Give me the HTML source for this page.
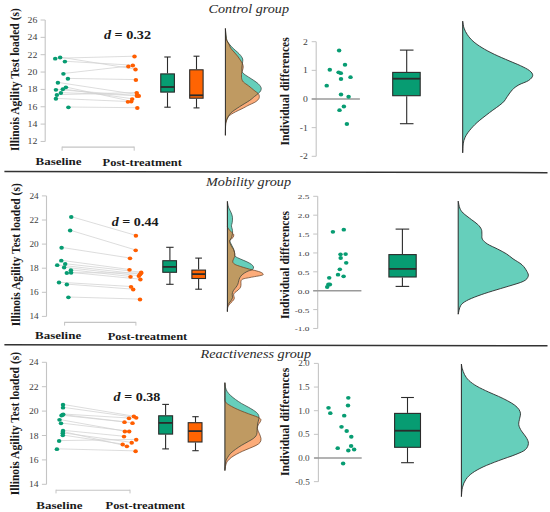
<!DOCTYPE html>
<html><head><meta charset="utf-8"><style>
html,body{margin:0;padding:0;background:#fff;width:550px;height:512px;overflow:hidden;}
svg{display:block;font-family:"Liberation Serif", serif;}
</style></head><body>
<svg width="550" height="512" viewBox="0 0 550 512">
<rect width="550" height="512" fill="#fff"/>
<text x="208.60" y="12.50" font-size="12.60" font-weight="normal" font-style="italic" text-anchor="start" fill="#2a2a2a" textLength="80.40" lengthAdjust="spacingAndGlyphs">Control group</text>
<text transform="translate(19.30,150.90) rotate(-90)" font-size="12.40" font-weight="bold" fill="#1a1a1a" textLength="142.70" lengthAdjust="spacingAndGlyphs">Illinois Agility Test loaded (s)</text>
<line x1="45.20" y1="20.00" x2="45.20" y2="141.45" stroke="#c4c4c4" stroke-width="1.10"/>
<line x1="40.60" y1="141.45" x2="45.20" y2="141.45" stroke="#c4c4c4" stroke-width="1.00"/>
<text x="37.40" y="144.45" font-size="7.90" font-weight="normal" font-style="normal" text-anchor="end" fill="#404040" textLength="9.80" lengthAdjust="spacingAndGlyphs">12</text>
<line x1="40.60" y1="124.10" x2="45.20" y2="124.10" stroke="#c4c4c4" stroke-width="1.00"/>
<text x="37.40" y="127.10" font-size="7.90" font-weight="normal" font-style="normal" text-anchor="end" fill="#404040" textLength="9.80" lengthAdjust="spacingAndGlyphs">14</text>
<line x1="40.60" y1="106.75" x2="45.20" y2="106.75" stroke="#c4c4c4" stroke-width="1.00"/>
<text x="37.40" y="109.75" font-size="7.90" font-weight="normal" font-style="normal" text-anchor="end" fill="#404040" textLength="9.80" lengthAdjust="spacingAndGlyphs">16</text>
<line x1="40.60" y1="89.40" x2="45.20" y2="89.40" stroke="#c4c4c4" stroke-width="1.00"/>
<text x="37.40" y="92.40" font-size="7.90" font-weight="normal" font-style="normal" text-anchor="end" fill="#404040" textLength="9.80" lengthAdjust="spacingAndGlyphs">18</text>
<line x1="40.60" y1="72.05" x2="45.20" y2="72.05" stroke="#c4c4c4" stroke-width="1.00"/>
<text x="37.40" y="75.05" font-size="7.90" font-weight="normal" font-style="normal" text-anchor="end" fill="#404040" textLength="9.80" lengthAdjust="spacingAndGlyphs">20</text>
<line x1="40.60" y1="54.70" x2="45.20" y2="54.70" stroke="#c4c4c4" stroke-width="1.00"/>
<text x="37.40" y="57.70" font-size="7.90" font-weight="normal" font-style="normal" text-anchor="end" fill="#404040" textLength="9.80" lengthAdjust="spacingAndGlyphs">22</text>
<line x1="40.60" y1="37.35" x2="45.20" y2="37.35" stroke="#c4c4c4" stroke-width="1.00"/>
<text x="37.40" y="40.35" font-size="7.90" font-weight="normal" font-style="normal" text-anchor="end" fill="#404040" textLength="9.80" lengthAdjust="spacingAndGlyphs">24</text>
<line x1="40.60" y1="20.00" x2="45.20" y2="20.00" stroke="#c4c4c4" stroke-width="1.00"/>
<text x="37.40" y="23.00" font-size="7.90" font-weight="normal" font-style="normal" text-anchor="end" fill="#404040" textLength="9.80" lengthAdjust="spacingAndGlyphs">26</text>
<line x1="62.10" y1="147.10" x2="134.20" y2="147.10" stroke="#c4c4c4" stroke-width="1.10"/>
<line x1="62.10" y1="146.60" x2="62.10" y2="150.70" stroke="#c4c4c4" stroke-width="1.00"/>
<line x1="134.20" y1="146.60" x2="134.20" y2="150.70" stroke="#c4c4c4" stroke-width="1.00"/>
<text x="35.50" y="165.00" font-size="11.00" font-weight="bold" font-style="normal" text-anchor="start" fill="#1a1a1a" textLength="46.10" lengthAdjust="spacingAndGlyphs">Baseline</text>
<text x="102.60" y="165.50" font-size="11.00" font-weight="bold" font-style="normal" text-anchor="start" fill="#1a1a1a" textLength="79.30" lengthAdjust="spacingAndGlyphs">Post-treatment</text>
<text x="103.90" y="38.90" font-size="12" font-weight="bold" fill="#1a1a1a" textLength="47.20" lengthAdjust="spacingAndGlyphs"><tspan font-style="italic">d</tspan> = 0.32</text>
<line x1="55.20" y1="58.30" x2="134.50" y2="56.20" stroke="#d2d2d2" stroke-width="0.75"/>
<line x1="60.10" y1="57.10" x2="135.50" y2="69.20" stroke="#d2d2d2" stroke-width="0.75"/>
<line x1="64.90" y1="61.25" x2="132.80" y2="65.20" stroke="#d2d2d2" stroke-width="0.75"/>
<line x1="63.40" y1="73.50" x2="128.40" y2="66.10" stroke="#d2d2d2" stroke-width="0.75"/>
<line x1="67.90" y1="78.40" x2="135.90" y2="79.60" stroke="#d2d2d2" stroke-width="0.75"/>
<line x1="57.90" y1="82.40" x2="137.30" y2="94.50" stroke="#d2d2d2" stroke-width="0.75"/>
<line x1="65.90" y1="87.00" x2="131.25" y2="101.25" stroke="#d2d2d2" stroke-width="0.75"/>
<line x1="62.80" y1="88.90" x2="132.20" y2="98.75" stroke="#d2d2d2" stroke-width="0.75"/>
<line x1="55.90" y1="89.50" x2="136.90" y2="95.60" stroke="#d2d2d2" stroke-width="0.75"/>
<line x1="60.90" y1="92.60" x2="138.80" y2="95.60" stroke="#d2d2d2" stroke-width="0.75"/>
<line x1="56.90" y1="94.70" x2="136.70" y2="92.50" stroke="#d2d2d2" stroke-width="0.75"/>
<line x1="55.90" y1="98.40" x2="127.90" y2="101.50" stroke="#d2d2d2" stroke-width="0.75"/>
<line x1="68.40" y1="107.00" x2="137.30" y2="107.70" stroke="#d2d2d2" stroke-width="0.75"/>
<ellipse cx="55.20" cy="58.65" rx="2.25" ry="1.95" fill="#079c72"/>
<ellipse cx="60.10" cy="57.45" rx="2.25" ry="1.95" fill="#079c72"/>
<ellipse cx="64.90" cy="61.60" rx="2.25" ry="1.95" fill="#079c72"/>
<ellipse cx="63.40" cy="73.85" rx="2.25" ry="1.95" fill="#079c72"/>
<ellipse cx="67.90" cy="78.75" rx="2.25" ry="1.95" fill="#079c72"/>
<ellipse cx="57.90" cy="82.75" rx="2.25" ry="1.95" fill="#079c72"/>
<ellipse cx="65.90" cy="87.35" rx="2.25" ry="1.95" fill="#079c72"/>
<ellipse cx="62.80" cy="89.25" rx="2.25" ry="1.95" fill="#079c72"/>
<ellipse cx="55.90" cy="89.85" rx="2.25" ry="1.95" fill="#079c72"/>
<ellipse cx="60.90" cy="92.95" rx="2.25" ry="1.95" fill="#079c72"/>
<ellipse cx="56.90" cy="95.05" rx="2.25" ry="1.95" fill="#079c72"/>
<ellipse cx="55.90" cy="98.75" rx="2.25" ry="1.95" fill="#079c72"/>
<ellipse cx="68.40" cy="107.35" rx="2.25" ry="1.95" fill="#079c72"/>
<ellipse cx="134.50" cy="56.55" rx="2.25" ry="1.95" fill="#ff5e00"/>
<ellipse cx="135.50" cy="69.55" rx="2.25" ry="1.95" fill="#ff5e00"/>
<ellipse cx="132.80" cy="65.55" rx="2.25" ry="1.95" fill="#ff5e00"/>
<ellipse cx="128.40" cy="66.45" rx="2.25" ry="1.95" fill="#ff5e00"/>
<ellipse cx="135.90" cy="79.95" rx="2.25" ry="1.95" fill="#ff5e00"/>
<ellipse cx="137.30" cy="94.85" rx="2.25" ry="1.95" fill="#ff5e00"/>
<ellipse cx="131.25" cy="101.60" rx="2.25" ry="1.95" fill="#ff5e00"/>
<ellipse cx="132.20" cy="99.10" rx="2.25" ry="1.95" fill="#ff5e00"/>
<ellipse cx="136.90" cy="95.95" rx="2.25" ry="1.95" fill="#ff5e00"/>
<ellipse cx="138.80" cy="95.95" rx="2.25" ry="1.95" fill="#ff5e00"/>
<ellipse cx="136.70" cy="92.85" rx="2.25" ry="1.95" fill="#ff5e00"/>
<ellipse cx="127.90" cy="101.85" rx="2.25" ry="1.95" fill="#ff5e00"/>
<ellipse cx="137.30" cy="108.05" rx="2.25" ry="1.95" fill="#ff5e00"/>
<line x1="167.50" y1="57.00" x2="167.50" y2="73.40" stroke="#2b2b2b" stroke-width="1.10"/>
<line x1="167.50" y1="92.60" x2="167.50" y2="107.20" stroke="#2b2b2b" stroke-width="1.10"/>
<line x1="164.30" y1="57.00" x2="170.70" y2="57.00" stroke="#2b2b2b" stroke-width="1.10"/>
<line x1="164.30" y1="107.20" x2="170.70" y2="107.20" stroke="#2b2b2b" stroke-width="1.10"/>
<rect x="160.75" y="73.90" width="13.65" height="18.20" fill="#079c72" stroke="#2b2b2b" stroke-width="1.1"/>
<line x1="160.75" y1="87.00" x2="174.40" y2="87.00" stroke="#2b2b2b" stroke-width="1.80"/>
<line x1="196.50" y1="56.20" x2="196.50" y2="69.30" stroke="#2b2b2b" stroke-width="1.10"/>
<line x1="196.50" y1="98.70" x2="196.50" y2="107.90" stroke="#2b2b2b" stroke-width="1.10"/>
<line x1="193.50" y1="56.20" x2="199.50" y2="56.20" stroke="#2b2b2b" stroke-width="1.10"/>
<line x1="193.50" y1="107.90" x2="199.50" y2="107.90" stroke="#2b2b2b" stroke-width="1.10"/>
<rect x="189.70" y="69.80" width="13.40" height="28.40" fill="#ff6402" stroke="#2b2b2b" stroke-width="1.1"/>
<line x1="189.70" y1="95.30" x2="203.10" y2="95.30" stroke="#2b2b2b" stroke-width="1.80"/>
<defs><clipPath id="clipg1"><path d="M225.40,28.50 L225.40,28.50 C225.47,29.25 225.65,31.58 225.80,33.00 C225.95,34.42 226.12,35.80 226.30,37.00 C226.48,38.20 226.42,39.03 226.90,40.20 C227.38,41.37 228.15,42.63 229.20,44.00 C230.25,45.37 231.85,47.07 233.20,48.40 C234.55,49.73 236.07,50.83 237.30,52.00 C238.53,53.17 239.77,54.40 240.60,55.40 C241.43,56.40 241.93,57.22 242.30,58.00 C242.67,58.78 242.78,59.17 242.80,60.10 C242.82,61.03 242.55,62.28 242.40,63.60 C242.25,64.92 241.93,66.63 241.90,68.00 C241.87,69.37 241.85,70.80 242.20,71.80 C242.55,72.80 242.98,73.15 244.00,74.00 C245.02,74.85 246.75,75.88 248.30,76.90 C249.85,77.92 251.62,78.93 253.30,80.10 C254.98,81.27 257.10,82.63 258.40,83.90 C259.70,85.17 260.73,86.53 261.10,87.70 C261.47,88.87 261.05,89.95 260.60,90.90 C260.15,91.85 259.42,92.47 258.40,93.40 C257.38,94.33 255.95,95.33 254.50,96.50 C253.05,97.67 252.18,98.70 249.70,100.40 C247.22,102.10 242.77,104.58 239.60,106.70 C236.43,108.82 232.82,110.98 230.70,113.10 C228.58,115.22 227.73,117.72 226.90,119.40 C226.07,121.08 225.94,121.43 225.70,123.20 C225.46,124.97 225.50,127.98 225.45,130.00 C225.40,132.02 225.41,134.42 225.40,135.30 L225.40,135.30 Z"/></clipPath></defs>
<path d="M225.40,28.50 L225.40,28.50 C225.47,29.25 225.65,31.58 225.80,33.00 C225.95,34.42 226.12,35.80 226.30,37.00 C226.48,38.20 226.42,39.03 226.90,40.20 C227.38,41.37 228.15,42.63 229.20,44.00 C230.25,45.37 231.85,47.07 233.20,48.40 C234.55,49.73 236.07,50.83 237.30,52.00 C238.53,53.17 239.77,54.40 240.60,55.40 C241.43,56.40 241.93,57.22 242.30,58.00 C242.67,58.78 242.78,59.17 242.80,60.10 C242.82,61.03 242.55,62.28 242.40,63.60 C242.25,64.92 241.93,66.63 241.90,68.00 C241.87,69.37 241.85,70.80 242.20,71.80 C242.55,72.80 242.98,73.15 244.00,74.00 C245.02,74.85 246.75,75.88 248.30,76.90 C249.85,77.92 251.62,78.93 253.30,80.10 C254.98,81.27 257.10,82.63 258.40,83.90 C259.70,85.17 260.73,86.53 261.10,87.70 C261.47,88.87 261.05,89.95 260.60,90.90 C260.15,91.85 259.42,92.47 258.40,93.40 C257.38,94.33 255.95,95.33 254.50,96.50 C253.05,97.67 252.18,98.70 249.70,100.40 C247.22,102.10 242.77,104.58 239.60,106.70 C236.43,108.82 232.82,110.98 230.70,113.10 C228.58,115.22 227.73,117.72 226.90,119.40 C226.07,121.08 225.94,121.43 225.70,123.20 C225.46,124.97 225.50,127.98 225.45,130.00 C225.40,132.02 225.41,134.42 225.40,135.30 L225.40,135.30 Z" fill="#66cfbb"/>
<path d="M225.40,28.50 L225.40,28.50 C225.48,29.75 225.67,34.00 225.90,36.00 C226.13,38.00 226.31,39.17 226.80,40.50 C227.29,41.83 228.22,42.75 228.85,44.00 C229.48,45.25 229.74,46.67 230.60,48.00 C231.46,49.33 232.85,50.67 234.00,52.00 C235.15,53.33 236.45,54.67 237.50,56.00 C238.55,57.33 239.45,58.67 240.30,60.00 C241.15,61.33 242.12,62.83 242.60,64.00 C243.08,65.17 243.20,66.00 243.20,67.00 C243.20,68.00 242.87,69.00 242.60,70.00 C242.33,71.00 241.78,72.00 241.60,73.00 C241.42,74.00 241.48,75.03 241.50,76.00 C241.52,76.97 241.38,77.80 241.70,78.80 C242.02,79.80 242.27,80.83 243.40,82.00 C244.53,83.17 246.60,84.32 248.50,85.80 C250.40,87.28 253.22,89.63 254.80,90.90 C256.38,92.17 257.25,92.57 258.00,93.40 C258.75,94.23 259.20,94.95 259.30,95.90 C259.40,96.85 259.35,98.03 258.60,99.10 C257.85,100.17 256.40,101.32 254.80,102.30 C253.20,103.28 250.90,104.05 249.00,105.00 C247.10,105.95 246.03,106.65 243.40,108.00 C240.77,109.35 235.73,111.62 233.20,113.10 C230.67,114.58 229.37,115.42 228.20,116.90 C227.03,118.38 226.63,120.52 226.20,122.00 C225.77,123.48 225.73,123.58 225.60,125.80 C225.47,128.02 225.43,133.72 225.40,135.30 L225.40,135.30 Z" fill="#fcac7a"/>
<path d="M225.40,28.50 L225.40,28.50 C225.48,29.75 225.67,34.00 225.90,36.00 C226.13,38.00 226.31,39.17 226.80,40.50 C227.29,41.83 228.22,42.75 228.85,44.00 C229.48,45.25 229.74,46.67 230.60,48.00 C231.46,49.33 232.85,50.67 234.00,52.00 C235.15,53.33 236.45,54.67 237.50,56.00 C238.55,57.33 239.45,58.67 240.30,60.00 C241.15,61.33 242.12,62.83 242.60,64.00 C243.08,65.17 243.20,66.00 243.20,67.00 C243.20,68.00 242.87,69.00 242.60,70.00 C242.33,71.00 241.78,72.00 241.60,73.00 C241.42,74.00 241.48,75.03 241.50,76.00 C241.52,76.97 241.38,77.80 241.70,78.80 C242.02,79.80 242.27,80.83 243.40,82.00 C244.53,83.17 246.60,84.32 248.50,85.80 C250.40,87.28 253.22,89.63 254.80,90.90 C256.38,92.17 257.25,92.57 258.00,93.40 C258.75,94.23 259.20,94.95 259.30,95.90 C259.40,96.85 259.35,98.03 258.60,99.10 C257.85,100.17 256.40,101.32 254.80,102.30 C253.20,103.28 250.90,104.05 249.00,105.00 C247.10,105.95 246.03,106.65 243.40,108.00 C240.77,109.35 235.73,111.62 233.20,113.10 C230.67,114.58 229.37,115.42 228.20,116.90 C227.03,118.38 226.63,120.52 226.20,122.00 C225.77,123.48 225.73,123.58 225.60,125.80 C225.47,128.02 225.43,133.72 225.40,135.30 L225.40,135.30 Z" fill="#bf9a62" clip-path="url(#clipg1)"/>
<path d="M225.40,28.50 C225.47,29.25 225.65,31.58 225.80,33.00 C225.95,34.42 226.12,35.80 226.30,37.00 C226.48,38.20 226.42,39.03 226.90,40.20 C227.38,41.37 228.15,42.63 229.20,44.00 C230.25,45.37 231.85,47.07 233.20,48.40 C234.55,49.73 236.07,50.83 237.30,52.00 C238.53,53.17 239.77,54.40 240.60,55.40 C241.43,56.40 241.93,57.22 242.30,58.00 C242.67,58.78 242.78,59.17 242.80,60.10 C242.82,61.03 242.55,62.28 242.40,63.60 C242.25,64.92 241.93,66.63 241.90,68.00 C241.87,69.37 241.85,70.80 242.20,71.80 C242.55,72.80 242.98,73.15 244.00,74.00 C245.02,74.85 246.75,75.88 248.30,76.90 C249.85,77.92 251.62,78.93 253.30,80.10 C254.98,81.27 257.10,82.63 258.40,83.90 C259.70,85.17 260.73,86.53 261.10,87.70 C261.47,88.87 261.05,89.95 260.60,90.90 C260.15,91.85 259.42,92.47 258.40,93.40 C257.38,94.33 255.95,95.33 254.50,96.50 C253.05,97.67 252.18,98.70 249.70,100.40 C247.22,102.10 242.77,104.58 239.60,106.70 C236.43,108.82 232.82,110.98 230.70,113.10 C228.58,115.22 227.73,117.72 226.90,119.40 C226.07,121.08 225.94,121.43 225.70,123.20 C225.46,124.97 225.50,127.98 225.45,130.00 C225.40,132.02 225.41,134.42 225.40,135.30" fill="none" stroke="#2e3a33" stroke-width="0.7"/>
<path d="M225.40,28.50 C225.48,29.75 225.67,34.00 225.90,36.00 C226.13,38.00 226.31,39.17 226.80,40.50 C227.29,41.83 228.22,42.75 228.85,44.00 C229.48,45.25 229.74,46.67 230.60,48.00 C231.46,49.33 232.85,50.67 234.00,52.00 C235.15,53.33 236.45,54.67 237.50,56.00 C238.55,57.33 239.45,58.67 240.30,60.00 C241.15,61.33 242.12,62.83 242.60,64.00 C243.08,65.17 243.20,66.00 243.20,67.00 C243.20,68.00 242.87,69.00 242.60,70.00 C242.33,71.00 241.78,72.00 241.60,73.00 C241.42,74.00 241.48,75.03 241.50,76.00 C241.52,76.97 241.38,77.80 241.70,78.80 C242.02,79.80 242.27,80.83 243.40,82.00 C244.53,83.17 246.60,84.32 248.50,85.80 C250.40,87.28 253.22,89.63 254.80,90.90 C256.38,92.17 257.25,92.57 258.00,93.40 C258.75,94.23 259.20,94.95 259.30,95.90 C259.40,96.85 259.35,98.03 258.60,99.10 C257.85,100.17 256.40,101.32 254.80,102.30 C253.20,103.28 250.90,104.05 249.00,105.00 C247.10,105.95 246.03,106.65 243.40,108.00 C240.77,109.35 235.73,111.62 233.20,113.10 C230.67,114.58 229.37,115.42 228.20,116.90 C227.03,118.38 226.63,120.52 226.20,122.00 C225.77,123.48 225.73,123.58 225.60,125.80 C225.47,128.02 225.43,133.72 225.40,135.30" fill="none" stroke="#5a3a20" stroke-width="0.7"/>
<line x1="225.40" y1="28.50" x2="225.40" y2="135.30" stroke="#2b2b2b" stroke-width="1.00"/>
<line x1="316.20" y1="41.70" x2="316.20" y2="156.30" stroke="#c4c4c4" stroke-width="1.10"/>
<line x1="311.70" y1="41.70" x2="316.20" y2="41.70" stroke="#c4c4c4" stroke-width="1.00"/>
<text x="307.90" y="44.70" font-size="7.90" font-weight="normal" font-style="normal" text-anchor="end" fill="#404040" textLength="4.82" lengthAdjust="spacingAndGlyphs">2</text>
<line x1="311.70" y1="70.35" x2="316.20" y2="70.35" stroke="#c4c4c4" stroke-width="1.00"/>
<text x="307.90" y="73.35" font-size="7.90" font-weight="normal" font-style="normal" text-anchor="end" fill="#404040" textLength="4.82" lengthAdjust="spacingAndGlyphs">1</text>
<line x1="311.70" y1="99.00" x2="316.20" y2="99.00" stroke="#c4c4c4" stroke-width="1.00"/>
<text x="307.90" y="102.00" font-size="7.90" font-weight="normal" font-style="normal" text-anchor="end" fill="#404040" textLength="4.82" lengthAdjust="spacingAndGlyphs">0</text>
<line x1="311.70" y1="127.65" x2="316.20" y2="127.65" stroke="#c4c4c4" stroke-width="1.00"/>
<text x="307.90" y="130.65" font-size="7.90" font-weight="normal" font-style="normal" text-anchor="end" fill="#404040" textLength="8.03" lengthAdjust="spacingAndGlyphs">-1</text>
<line x1="311.70" y1="156.30" x2="316.20" y2="156.30" stroke="#c4c4c4" stroke-width="1.00"/>
<text x="307.90" y="159.30" font-size="7.90" font-weight="normal" font-style="normal" text-anchor="end" fill="#404040" textLength="8.03" lengthAdjust="spacingAndGlyphs">-2</text>
<line x1="311.70" y1="99.00" x2="359.90" y2="99.00" stroke="#9a9a9a" stroke-width="1.50"/>
<text transform="translate(289.00,145.40) rotate(-90)" font-size="12.60" font-weight="bold" fill="#1a1a1a" textLength="108.10" lengthAdjust="spacingAndGlyphs">Individual differences</text>
<ellipse cx="339.10" cy="50.55" rx="2.25" ry="1.95" fill="#079c72"/>
<ellipse cx="345.00" cy="64.75" rx="2.25" ry="1.95" fill="#079c72"/>
<ellipse cx="329.80" cy="69.75" rx="2.25" ry="1.95" fill="#079c72"/>
<ellipse cx="338.60" cy="72.35" rx="2.25" ry="1.95" fill="#079c72"/>
<ellipse cx="340.80" cy="73.15" rx="2.25" ry="1.95" fill="#079c72"/>
<ellipse cx="341.00" cy="78.95" rx="2.25" ry="1.95" fill="#079c72"/>
<ellipse cx="350.50" cy="77.15" rx="2.25" ry="1.95" fill="#079c72"/>
<ellipse cx="326.70" cy="85.65" rx="2.25" ry="1.95" fill="#079c72"/>
<ellipse cx="341.00" cy="94.45" rx="2.25" ry="1.95" fill="#079c72"/>
<ellipse cx="348.60" cy="96.75" rx="2.25" ry="1.95" fill="#079c72"/>
<ellipse cx="343.90" cy="106.45" rx="2.25" ry="1.95" fill="#079c72"/>
<ellipse cx="339.50" cy="110.15" rx="2.25" ry="1.95" fill="#079c72"/>
<ellipse cx="346.90" cy="123.95" rx="2.25" ry="1.95" fill="#079c72"/>
<line x1="406.70" y1="50.10" x2="406.70" y2="71.90" stroke="#2b2b2b" stroke-width="1.10"/>
<line x1="406.70" y1="96.20" x2="406.70" y2="123.70" stroke="#2b2b2b" stroke-width="1.10"/>
<line x1="399.90" y1="50.10" x2="413.50" y2="50.10" stroke="#2b2b2b" stroke-width="1.10"/>
<line x1="399.90" y1="123.70" x2="413.50" y2="123.70" stroke="#2b2b2b" stroke-width="1.10"/>
<rect x="392.70" y="72.40" width="27.50" height="23.30" fill="#079c72" stroke="#2b2b2b" stroke-width="1.1"/>
<line x1="392.70" y1="78.70" x2="420.20" y2="78.70" stroke="#2b2b2b" stroke-width="1.80"/>
<path d="M462.70,21.20 C462.92,22.35 463.23,25.87 464.00,28.10 C464.77,30.33 465.80,32.42 467.30,34.60 C468.80,36.78 470.55,39.02 473.00,41.20 C475.45,43.38 478.45,45.52 482.00,47.70 C485.55,49.88 489.80,52.12 494.30,54.30 C498.80,56.48 504.63,58.90 509.00,60.80 C513.37,62.70 517.08,64.07 520.50,65.70 C523.92,67.33 527.47,68.97 529.50,70.60 C531.53,72.23 532.85,73.85 532.70,75.50 C532.55,77.15 530.92,78.93 528.60,80.50 C526.28,82.07 521.52,83.35 518.80,84.90 C516.08,86.45 514.20,87.88 512.30,89.80 C510.40,91.72 509.03,94.22 507.40,96.40 C505.77,98.58 505.50,100.18 502.50,102.90 C499.50,105.62 493.63,109.43 489.40,112.70 C485.17,115.97 480.43,119.50 477.10,122.50 C473.77,125.50 471.40,128.23 469.40,130.70 C467.40,133.17 466.13,135.12 465.10,137.30 C464.07,139.48 463.60,141.22 463.20,143.80 C462.80,146.38 462.78,151.30 462.70,152.80 Z" fill="#66cfbb" stroke="none"/>
<path d="M462.70,21.20 C462.92,22.35 463.23,25.87 464.00,28.10 C464.77,30.33 465.80,32.42 467.30,34.60 C468.80,36.78 470.55,39.02 473.00,41.20 C475.45,43.38 478.45,45.52 482.00,47.70 C485.55,49.88 489.80,52.12 494.30,54.30 C498.80,56.48 504.63,58.90 509.00,60.80 C513.37,62.70 517.08,64.07 520.50,65.70 C523.92,67.33 527.47,68.97 529.50,70.60 C531.53,72.23 532.85,73.85 532.70,75.50 C532.55,77.15 530.92,78.93 528.60,80.50 C526.28,82.07 521.52,83.35 518.80,84.90 C516.08,86.45 514.20,87.88 512.30,89.80 C510.40,91.72 509.03,94.22 507.40,96.40 C505.77,98.58 505.50,100.18 502.50,102.90 C499.50,105.62 493.63,109.43 489.40,112.70 C485.17,115.97 480.43,119.50 477.10,122.50 C473.77,125.50 471.40,128.23 469.40,130.70 C467.40,133.17 466.13,135.12 465.10,137.30 C464.07,139.48 463.60,141.22 463.20,143.80 C462.80,146.38 462.78,151.30 462.70,152.80" fill="none" stroke="#2b2b2b" stroke-width="0.9"/>
<line x1="462.70" y1="21.20" x2="462.70" y2="152.80" stroke="#2b2b2b" stroke-width="1.00"/>
<text x="206.00" y="185.60" font-size="12.60" font-weight="normal" font-style="italic" text-anchor="start" fill="#2a2a2a" textLength="85.00" lengthAdjust="spacingAndGlyphs">Mobility group</text>
<text transform="translate(19.50,326.20) rotate(-90)" font-size="12.40" font-weight="bold" fill="#1a1a1a" textLength="143.00" lengthAdjust="spacingAndGlyphs">Illinois Agility Test loaded (s)</text>
<line x1="46.50" y1="195.90" x2="46.50" y2="316.40" stroke="#c4c4c4" stroke-width="1.10"/>
<line x1="41.90" y1="316.40" x2="46.50" y2="316.40" stroke="#c4c4c4" stroke-width="1.00"/>
<text x="38.70" y="319.40" font-size="8.40" font-weight="normal" font-style="normal" text-anchor="end" fill="#404040" textLength="9.24" lengthAdjust="spacingAndGlyphs">14</text>
<line x1="41.90" y1="292.30" x2="46.50" y2="292.30" stroke="#c4c4c4" stroke-width="1.00"/>
<text x="38.70" y="295.30" font-size="8.40" font-weight="normal" font-style="normal" text-anchor="end" fill="#404040" textLength="9.24" lengthAdjust="spacingAndGlyphs">16</text>
<line x1="41.90" y1="268.20" x2="46.50" y2="268.20" stroke="#c4c4c4" stroke-width="1.00"/>
<text x="38.70" y="271.20" font-size="8.40" font-weight="normal" font-style="normal" text-anchor="end" fill="#404040" textLength="9.24" lengthAdjust="spacingAndGlyphs">18</text>
<line x1="41.90" y1="244.10" x2="46.50" y2="244.10" stroke="#c4c4c4" stroke-width="1.00"/>
<text x="38.70" y="247.10" font-size="8.40" font-weight="normal" font-style="normal" text-anchor="end" fill="#404040" textLength="9.24" lengthAdjust="spacingAndGlyphs">20</text>
<line x1="41.90" y1="220.00" x2="46.50" y2="220.00" stroke="#c4c4c4" stroke-width="1.00"/>
<text x="38.70" y="223.00" font-size="8.40" font-weight="normal" font-style="normal" text-anchor="end" fill="#404040" textLength="9.24" lengthAdjust="spacingAndGlyphs">22</text>
<line x1="41.90" y1="195.90" x2="46.50" y2="195.90" stroke="#c4c4c4" stroke-width="1.00"/>
<text x="38.70" y="198.90" font-size="8.40" font-weight="normal" font-style="normal" text-anchor="end" fill="#404040" textLength="9.24" lengthAdjust="spacingAndGlyphs">24</text>
<line x1="64.60" y1="322.40" x2="135.90" y2="322.40" stroke="#c4c4c4" stroke-width="1.10"/>
<line x1="64.60" y1="321.90" x2="64.60" y2="325.60" stroke="#c4c4c4" stroke-width="1.00"/>
<line x1="135.90" y1="321.90" x2="135.90" y2="325.60" stroke="#c4c4c4" stroke-width="1.00"/>
<text x="35.10" y="339.30" font-size="11.00" font-weight="bold" font-style="normal" text-anchor="start" fill="#1a1a1a" textLength="46.10" lengthAdjust="spacingAndGlyphs">Baseline</text>
<text x="107.70" y="340.00" font-size="11.00" font-weight="bold" font-style="normal" text-anchor="start" fill="#1a1a1a" textLength="79.60" lengthAdjust="spacingAndGlyphs">Post-treatment</text>
<text x="111.80" y="225.70" font-size="12" font-weight="bold" fill="#1a1a1a" textLength="46.70" lengthAdjust="spacingAndGlyphs"><tspan font-style="italic">d</tspan> = 0.44</text>
<line x1="71.25" y1="216.60" x2="135.90" y2="235.40" stroke="#d2d2d2" stroke-width="0.75"/>
<line x1="70.10" y1="230.20" x2="135.70" y2="250.00" stroke="#d2d2d2" stroke-width="0.75"/>
<line x1="61.60" y1="247.40" x2="130.00" y2="258.00" stroke="#d2d2d2" stroke-width="0.75"/>
<line x1="61.30" y1="260.30" x2="129.50" y2="269.50" stroke="#d2d2d2" stroke-width="0.75"/>
<line x1="65.20" y1="263.70" x2="141.20" y2="272.20" stroke="#d2d2d2" stroke-width="0.75"/>
<line x1="57.20" y1="264.80" x2="140.00" y2="274.10" stroke="#d2d2d2" stroke-width="0.75"/>
<line x1="64.10" y1="267.20" x2="138.80" y2="275.70" stroke="#d2d2d2" stroke-width="0.75"/>
<line x1="70.90" y1="269.80" x2="130.50" y2="276.50" stroke="#d2d2d2" stroke-width="0.75"/>
<line x1="71.10" y1="272.40" x2="140.40" y2="279.20" stroke="#d2d2d2" stroke-width="0.75"/>
<line x1="66.80" y1="272.70" x2="141.00" y2="273.00" stroke="#d2d2d2" stroke-width="0.75"/>
<line x1="59.00" y1="282.20" x2="131.00" y2="286.50" stroke="#d2d2d2" stroke-width="0.75"/>
<line x1="66.80" y1="284.10" x2="133.20" y2="289.20" stroke="#d2d2d2" stroke-width="0.75"/>
<line x1="68.40" y1="297.00" x2="140.00" y2="299.10" stroke="#d2d2d2" stroke-width="0.75"/>
<ellipse cx="71.25" cy="216.95" rx="2.25" ry="1.95" fill="#079c72"/>
<ellipse cx="70.10" cy="230.55" rx="2.25" ry="1.95" fill="#079c72"/>
<ellipse cx="61.60" cy="247.75" rx="2.25" ry="1.95" fill="#079c72"/>
<ellipse cx="61.30" cy="260.65" rx="2.25" ry="1.95" fill="#079c72"/>
<ellipse cx="65.20" cy="264.05" rx="2.25" ry="1.95" fill="#079c72"/>
<ellipse cx="57.20" cy="265.15" rx="2.25" ry="1.95" fill="#079c72"/>
<ellipse cx="64.10" cy="267.55" rx="2.25" ry="1.95" fill="#079c72"/>
<ellipse cx="70.90" cy="270.15" rx="2.25" ry="1.95" fill="#079c72"/>
<ellipse cx="71.10" cy="272.75" rx="2.25" ry="1.95" fill="#079c72"/>
<ellipse cx="66.80" cy="273.05" rx="2.25" ry="1.95" fill="#079c72"/>
<ellipse cx="59.00" cy="282.55" rx="2.25" ry="1.95" fill="#079c72"/>
<ellipse cx="66.80" cy="284.45" rx="2.25" ry="1.95" fill="#079c72"/>
<ellipse cx="68.40" cy="297.35" rx="2.25" ry="1.95" fill="#079c72"/>
<ellipse cx="135.90" cy="235.75" rx="2.25" ry="1.95" fill="#ff5e00"/>
<ellipse cx="135.70" cy="250.35" rx="2.25" ry="1.95" fill="#ff5e00"/>
<ellipse cx="130.00" cy="258.35" rx="2.25" ry="1.95" fill="#ff5e00"/>
<ellipse cx="129.50" cy="269.85" rx="2.25" ry="1.95" fill="#ff5e00"/>
<ellipse cx="141.20" cy="272.55" rx="2.25" ry="1.95" fill="#ff5e00"/>
<ellipse cx="140.00" cy="274.45" rx="2.25" ry="1.95" fill="#ff5e00"/>
<ellipse cx="138.80" cy="276.05" rx="2.25" ry="1.95" fill="#ff5e00"/>
<ellipse cx="130.50" cy="276.85" rx="2.25" ry="1.95" fill="#ff5e00"/>
<ellipse cx="140.40" cy="279.55" rx="2.25" ry="1.95" fill="#ff5e00"/>
<ellipse cx="141.00" cy="273.35" rx="2.25" ry="1.95" fill="#ff5e00"/>
<ellipse cx="131.00" cy="286.85" rx="2.25" ry="1.95" fill="#ff5e00"/>
<ellipse cx="133.20" cy="289.55" rx="2.25" ry="1.95" fill="#ff5e00"/>
<ellipse cx="140.00" cy="299.45" rx="2.25" ry="1.95" fill="#ff5e00"/>
<line x1="169.90" y1="247.30" x2="169.90" y2="260.20" stroke="#2b2b2b" stroke-width="1.10"/>
<line x1="169.90" y1="272.80" x2="169.90" y2="284.30" stroke="#2b2b2b" stroke-width="1.10"/>
<line x1="166.20" y1="247.30" x2="173.60" y2="247.30" stroke="#2b2b2b" stroke-width="1.10"/>
<line x1="166.20" y1="284.30" x2="173.60" y2="284.30" stroke="#2b2b2b" stroke-width="1.10"/>
<rect x="162.80" y="260.70" width="13.70" height="11.60" fill="#079c72" stroke="#2b2b2b" stroke-width="1.1"/>
<line x1="162.80" y1="266.90" x2="176.50" y2="266.90" stroke="#2b2b2b" stroke-width="1.80"/>
<line x1="198.60" y1="258.10" x2="198.60" y2="269.60" stroke="#2b2b2b" stroke-width="1.10"/>
<line x1="198.60" y1="279.00" x2="198.60" y2="289.20" stroke="#2b2b2b" stroke-width="1.10"/>
<line x1="195.25" y1="258.10" x2="201.95" y2="258.10" stroke="#2b2b2b" stroke-width="1.10"/>
<line x1="195.25" y1="289.20" x2="201.95" y2="289.20" stroke="#2b2b2b" stroke-width="1.10"/>
<rect x="191.90" y="270.10" width="13.60" height="8.40" fill="#ff6402" stroke="#2b2b2b" stroke-width="1.1"/>
<line x1="191.90" y1="274.10" x2="205.50" y2="274.10" stroke="#2b2b2b" stroke-width="1.80"/>
<defs><clipPath id="clipg2"><path d="M227.40,201.40 L227.40,201.40 C227.47,201.83 227.57,202.92 227.80,204.00 C228.03,205.08 228.25,206.47 228.80,207.90 C229.35,209.33 230.48,211.03 231.10,212.60 C231.72,214.17 232.32,215.62 232.50,217.30 C232.68,218.98 232.38,221.28 232.20,222.70 C232.02,224.12 231.40,224.77 231.40,225.80 C231.40,226.83 232.00,227.85 232.20,228.90 C232.40,229.95 232.60,231.08 232.60,232.10 C232.60,233.12 232.38,234.10 232.20,235.00 C232.02,235.90 231.88,236.55 231.50,237.50 C231.12,238.45 229.98,239.65 229.90,240.70 C229.82,241.75 230.48,242.63 231.00,243.80 C231.52,244.97 232.47,246.53 233.00,247.70 C233.53,248.87 233.93,249.83 234.20,250.80 C234.47,251.77 234.43,252.58 234.60,253.50 C234.77,254.42 234.20,255.37 235.20,256.30 C236.20,257.23 238.65,258.18 240.60,259.10 C242.55,260.02 245.07,260.90 246.90,261.80 C248.73,262.70 250.50,263.65 251.60,264.50 C252.70,265.35 253.25,266.18 253.50,266.90 C253.75,267.62 253.35,268.32 253.10,268.80 C252.85,269.28 253.03,269.33 252.00,269.80 C250.97,270.27 248.53,270.78 246.90,271.60 C245.27,272.42 243.38,273.67 242.20,274.70 C241.02,275.73 240.38,276.77 239.80,277.80 C239.22,278.83 239.02,279.85 238.70,280.90 C238.38,281.95 238.33,283.07 237.90,284.10 C237.47,285.13 236.87,286.00 236.10,287.10 C235.33,288.20 233.95,289.52 233.30,290.70 C232.65,291.88 232.33,293.03 232.20,294.20 C232.07,295.37 232.68,296.65 232.50,297.70 C232.32,298.75 231.68,299.57 231.10,300.50 C230.52,301.43 229.58,302.37 229.00,303.30 C228.42,304.23 227.87,304.72 227.60,306.10 C227.33,307.48 227.43,310.68 227.40,311.60 L227.40,311.60 Z"/></clipPath></defs>
<path d="M227.40,201.40 L227.40,201.40 C227.47,201.83 227.57,202.92 227.80,204.00 C228.03,205.08 228.25,206.47 228.80,207.90 C229.35,209.33 230.48,211.03 231.10,212.60 C231.72,214.17 232.32,215.62 232.50,217.30 C232.68,218.98 232.38,221.28 232.20,222.70 C232.02,224.12 231.40,224.77 231.40,225.80 C231.40,226.83 232.00,227.85 232.20,228.90 C232.40,229.95 232.60,231.08 232.60,232.10 C232.60,233.12 232.38,234.10 232.20,235.00 C232.02,235.90 231.88,236.55 231.50,237.50 C231.12,238.45 229.98,239.65 229.90,240.70 C229.82,241.75 230.48,242.63 231.00,243.80 C231.52,244.97 232.47,246.53 233.00,247.70 C233.53,248.87 233.93,249.83 234.20,250.80 C234.47,251.77 234.43,252.58 234.60,253.50 C234.77,254.42 234.20,255.37 235.20,256.30 C236.20,257.23 238.65,258.18 240.60,259.10 C242.55,260.02 245.07,260.90 246.90,261.80 C248.73,262.70 250.50,263.65 251.60,264.50 C252.70,265.35 253.25,266.18 253.50,266.90 C253.75,267.62 253.35,268.32 253.10,268.80 C252.85,269.28 253.03,269.33 252.00,269.80 C250.97,270.27 248.53,270.78 246.90,271.60 C245.27,272.42 243.38,273.67 242.20,274.70 C241.02,275.73 240.38,276.77 239.80,277.80 C239.22,278.83 239.02,279.85 238.70,280.90 C238.38,281.95 238.33,283.07 237.90,284.10 C237.47,285.13 236.87,286.00 236.10,287.10 C235.33,288.20 233.95,289.52 233.30,290.70 C232.65,291.88 232.33,293.03 232.20,294.20 C232.07,295.37 232.68,296.65 232.50,297.70 C232.32,298.75 231.68,299.57 231.10,300.50 C230.52,301.43 229.58,302.37 229.00,303.30 C228.42,304.23 227.87,304.72 227.60,306.10 C227.33,307.48 227.43,310.68 227.40,311.60 L227.40,311.60 Z" fill="#66cfbb"/>
<path d="M227.40,201.40 L227.40,201.40 C227.41,205.17 227.42,219.67 227.45,224.00 C227.48,228.33 227.19,226.32 227.60,227.40 C228.01,228.48 229.13,229.60 229.90,230.50 C230.67,231.40 231.55,232.08 232.20,232.80 C232.85,233.52 233.67,234.02 233.80,234.80 C233.93,235.58 233.59,236.65 233.00,237.50 C232.41,238.35 230.83,239.25 230.25,239.90 C229.67,240.55 229.50,240.75 229.50,241.40 C229.50,242.05 229.87,242.88 230.25,243.80 C230.63,244.72 231.28,245.99 231.80,246.90 C232.33,247.81 232.95,248.33 233.40,249.25 C233.85,250.17 234.25,251.49 234.50,252.40 C234.75,253.31 234.88,254.00 234.90,254.70 C234.92,255.40 234.88,255.75 234.60,256.60 C234.32,257.45 233.50,258.87 233.20,259.80 C232.90,260.73 232.47,261.42 232.80,262.20 C233.13,262.98 233.90,263.78 235.20,264.50 C236.50,265.22 238.65,265.85 240.60,266.50 C242.55,267.15 245.00,267.85 246.90,268.40 C248.80,268.95 250.44,269.40 252.00,269.80 C253.56,270.20 254.77,270.38 256.25,270.80 C257.73,271.22 259.72,271.72 260.90,272.30 C262.07,272.88 263.30,273.77 263.30,274.30 C263.30,274.83 262.33,275.12 260.90,275.50 C259.47,275.88 256.78,276.22 254.70,276.60 C252.62,276.98 250.35,277.40 248.40,277.80 C246.45,278.20 244.23,278.48 243.00,279.00 C241.77,279.52 241.33,280.13 241.00,280.90 C240.67,281.67 241.07,282.57 241.00,283.60 C240.93,284.63 241.07,286.03 240.60,287.10 C240.13,288.17 239.18,289.05 238.20,290.00 C237.22,290.95 235.47,291.98 234.70,292.80 C233.93,293.62 233.67,293.97 233.60,294.90 C233.53,295.83 234.48,297.35 234.30,298.40 C234.12,299.45 233.27,300.27 232.50,301.20 C231.73,302.13 230.45,303.07 229.70,304.00 C228.95,304.93 228.37,305.97 228.00,306.80 C227.63,307.63 227.60,308.20 227.50,309.00 C227.40,309.80 227.42,311.17 227.40,311.60 L227.40,311.60 Z" fill="#fcac7a"/>
<path d="M227.40,201.40 L227.40,201.40 C227.41,205.17 227.42,219.67 227.45,224.00 C227.48,228.33 227.19,226.32 227.60,227.40 C228.01,228.48 229.13,229.60 229.90,230.50 C230.67,231.40 231.55,232.08 232.20,232.80 C232.85,233.52 233.67,234.02 233.80,234.80 C233.93,235.58 233.59,236.65 233.00,237.50 C232.41,238.35 230.83,239.25 230.25,239.90 C229.67,240.55 229.50,240.75 229.50,241.40 C229.50,242.05 229.87,242.88 230.25,243.80 C230.63,244.72 231.28,245.99 231.80,246.90 C232.33,247.81 232.95,248.33 233.40,249.25 C233.85,250.17 234.25,251.49 234.50,252.40 C234.75,253.31 234.88,254.00 234.90,254.70 C234.92,255.40 234.88,255.75 234.60,256.60 C234.32,257.45 233.50,258.87 233.20,259.80 C232.90,260.73 232.47,261.42 232.80,262.20 C233.13,262.98 233.90,263.78 235.20,264.50 C236.50,265.22 238.65,265.85 240.60,266.50 C242.55,267.15 245.00,267.85 246.90,268.40 C248.80,268.95 250.44,269.40 252.00,269.80 C253.56,270.20 254.77,270.38 256.25,270.80 C257.73,271.22 259.72,271.72 260.90,272.30 C262.07,272.88 263.30,273.77 263.30,274.30 C263.30,274.83 262.33,275.12 260.90,275.50 C259.47,275.88 256.78,276.22 254.70,276.60 C252.62,276.98 250.35,277.40 248.40,277.80 C246.45,278.20 244.23,278.48 243.00,279.00 C241.77,279.52 241.33,280.13 241.00,280.90 C240.67,281.67 241.07,282.57 241.00,283.60 C240.93,284.63 241.07,286.03 240.60,287.10 C240.13,288.17 239.18,289.05 238.20,290.00 C237.22,290.95 235.47,291.98 234.70,292.80 C233.93,293.62 233.67,293.97 233.60,294.90 C233.53,295.83 234.48,297.35 234.30,298.40 C234.12,299.45 233.27,300.27 232.50,301.20 C231.73,302.13 230.45,303.07 229.70,304.00 C228.95,304.93 228.37,305.97 228.00,306.80 C227.63,307.63 227.60,308.20 227.50,309.00 C227.40,309.80 227.42,311.17 227.40,311.60 L227.40,311.60 Z" fill="#bf9a62" clip-path="url(#clipg2)"/>
<path d="M227.40,201.40 C227.47,201.83 227.57,202.92 227.80,204.00 C228.03,205.08 228.25,206.47 228.80,207.90 C229.35,209.33 230.48,211.03 231.10,212.60 C231.72,214.17 232.32,215.62 232.50,217.30 C232.68,218.98 232.38,221.28 232.20,222.70 C232.02,224.12 231.40,224.77 231.40,225.80 C231.40,226.83 232.00,227.85 232.20,228.90 C232.40,229.95 232.60,231.08 232.60,232.10 C232.60,233.12 232.38,234.10 232.20,235.00 C232.02,235.90 231.88,236.55 231.50,237.50 C231.12,238.45 229.98,239.65 229.90,240.70 C229.82,241.75 230.48,242.63 231.00,243.80 C231.52,244.97 232.47,246.53 233.00,247.70 C233.53,248.87 233.93,249.83 234.20,250.80 C234.47,251.77 234.43,252.58 234.60,253.50 C234.77,254.42 234.20,255.37 235.20,256.30 C236.20,257.23 238.65,258.18 240.60,259.10 C242.55,260.02 245.07,260.90 246.90,261.80 C248.73,262.70 250.50,263.65 251.60,264.50 C252.70,265.35 253.25,266.18 253.50,266.90 C253.75,267.62 253.35,268.32 253.10,268.80 C252.85,269.28 253.03,269.33 252.00,269.80 C250.97,270.27 248.53,270.78 246.90,271.60 C245.27,272.42 243.38,273.67 242.20,274.70 C241.02,275.73 240.38,276.77 239.80,277.80 C239.22,278.83 239.02,279.85 238.70,280.90 C238.38,281.95 238.33,283.07 237.90,284.10 C237.47,285.13 236.87,286.00 236.10,287.10 C235.33,288.20 233.95,289.52 233.30,290.70 C232.65,291.88 232.33,293.03 232.20,294.20 C232.07,295.37 232.68,296.65 232.50,297.70 C232.32,298.75 231.68,299.57 231.10,300.50 C230.52,301.43 229.58,302.37 229.00,303.30 C228.42,304.23 227.87,304.72 227.60,306.10 C227.33,307.48 227.43,310.68 227.40,311.60" fill="none" stroke="#2e3a33" stroke-width="0.7"/>
<path d="M227.40,201.40 C227.41,205.17 227.42,219.67 227.45,224.00 C227.48,228.33 227.19,226.32 227.60,227.40 C228.01,228.48 229.13,229.60 229.90,230.50 C230.67,231.40 231.55,232.08 232.20,232.80 C232.85,233.52 233.67,234.02 233.80,234.80 C233.93,235.58 233.59,236.65 233.00,237.50 C232.41,238.35 230.83,239.25 230.25,239.90 C229.67,240.55 229.50,240.75 229.50,241.40 C229.50,242.05 229.87,242.88 230.25,243.80 C230.63,244.72 231.28,245.99 231.80,246.90 C232.33,247.81 232.95,248.33 233.40,249.25 C233.85,250.17 234.25,251.49 234.50,252.40 C234.75,253.31 234.88,254.00 234.90,254.70 C234.92,255.40 234.88,255.75 234.60,256.60 C234.32,257.45 233.50,258.87 233.20,259.80 C232.90,260.73 232.47,261.42 232.80,262.20 C233.13,262.98 233.90,263.78 235.20,264.50 C236.50,265.22 238.65,265.85 240.60,266.50 C242.55,267.15 245.00,267.85 246.90,268.40 C248.80,268.95 250.44,269.40 252.00,269.80 C253.56,270.20 254.77,270.38 256.25,270.80 C257.73,271.22 259.72,271.72 260.90,272.30 C262.07,272.88 263.30,273.77 263.30,274.30 C263.30,274.83 262.33,275.12 260.90,275.50 C259.47,275.88 256.78,276.22 254.70,276.60 C252.62,276.98 250.35,277.40 248.40,277.80 C246.45,278.20 244.23,278.48 243.00,279.00 C241.77,279.52 241.33,280.13 241.00,280.90 C240.67,281.67 241.07,282.57 241.00,283.60 C240.93,284.63 241.07,286.03 240.60,287.10 C240.13,288.17 239.18,289.05 238.20,290.00 C237.22,290.95 235.47,291.98 234.70,292.80 C233.93,293.62 233.67,293.97 233.60,294.90 C233.53,295.83 234.48,297.35 234.30,298.40 C234.12,299.45 233.27,300.27 232.50,301.20 C231.73,302.13 230.45,303.07 229.70,304.00 C228.95,304.93 228.37,305.97 228.00,306.80 C227.63,307.63 227.60,308.20 227.50,309.00 C227.40,309.80 227.42,311.17 227.40,311.60" fill="none" stroke="#5a3a20" stroke-width="0.7"/>
<line x1="227.40" y1="201.40" x2="227.40" y2="311.60" stroke="#2b2b2b" stroke-width="1.00"/>
<line x1="317.70" y1="196.30" x2="317.70" y2="328.46" stroke="#c4c4c4" stroke-width="1.10"/>
<line x1="313.20" y1="196.30" x2="317.70" y2="196.30" stroke="#c4c4c4" stroke-width="1.00"/>
<text x="309.50" y="199.30" font-size="7.00" font-weight="normal" font-style="normal" text-anchor="end" fill="#404040" textLength="11.64" lengthAdjust="spacingAndGlyphs">2.5</text>
<line x1="313.20" y1="215.18" x2="317.70" y2="215.18" stroke="#c4c4c4" stroke-width="1.00"/>
<text x="309.50" y="218.18" font-size="7.00" font-weight="normal" font-style="normal" text-anchor="end" fill="#404040" textLength="11.64" lengthAdjust="spacingAndGlyphs">2.0</text>
<line x1="313.20" y1="234.06" x2="317.70" y2="234.06" stroke="#c4c4c4" stroke-width="1.00"/>
<text x="309.50" y="237.06" font-size="7.00" font-weight="normal" font-style="normal" text-anchor="end" fill="#404040" textLength="11.64" lengthAdjust="spacingAndGlyphs">1.5</text>
<line x1="313.20" y1="252.94" x2="317.70" y2="252.94" stroke="#c4c4c4" stroke-width="1.00"/>
<text x="309.50" y="255.94" font-size="7.00" font-weight="normal" font-style="normal" text-anchor="end" fill="#404040" textLength="11.64" lengthAdjust="spacingAndGlyphs">1.0</text>
<line x1="313.20" y1="271.82" x2="317.70" y2="271.82" stroke="#c4c4c4" stroke-width="1.00"/>
<text x="309.50" y="274.82" font-size="7.00" font-weight="normal" font-style="normal" text-anchor="end" fill="#404040" textLength="11.64" lengthAdjust="spacingAndGlyphs">0.5</text>
<line x1="313.20" y1="290.70" x2="317.70" y2="290.70" stroke="#c4c4c4" stroke-width="1.00"/>
<text x="309.50" y="293.70" font-size="7.00" font-weight="normal" font-style="normal" text-anchor="end" fill="#404040" textLength="11.64" lengthAdjust="spacingAndGlyphs">0.0</text>
<line x1="313.20" y1="309.58" x2="317.70" y2="309.58" stroke="#c4c4c4" stroke-width="1.00"/>
<text x="309.50" y="312.58" font-size="7.00" font-weight="normal" font-style="normal" text-anchor="end" fill="#404040" textLength="14.74" lengthAdjust="spacingAndGlyphs">-0.5</text>
<line x1="313.20" y1="328.46" x2="317.70" y2="328.46" stroke="#c4c4c4" stroke-width="1.00"/>
<text x="309.50" y="331.46" font-size="7.00" font-weight="normal" font-style="normal" text-anchor="end" fill="#404040" textLength="14.74" lengthAdjust="spacingAndGlyphs">-1.0</text>
<line x1="313.20" y1="290.70" x2="361.40" y2="290.70" stroke="#9a9a9a" stroke-width="1.50"/>
<text transform="translate(288.80,318.90) rotate(-90)" font-size="12.60" font-weight="bold" fill="#1a1a1a" textLength="108.00" lengthAdjust="spacingAndGlyphs">Individual differences</text>
<ellipse cx="332.90" cy="231.85" rx="2.25" ry="1.95" fill="#079c72"/>
<ellipse cx="343.80" cy="229.65" rx="2.25" ry="1.95" fill="#079c72"/>
<ellipse cx="340.50" cy="254.35" rx="2.25" ry="1.95" fill="#079c72"/>
<ellipse cx="345.60" cy="254.10" rx="2.25" ry="1.95" fill="#079c72"/>
<ellipse cx="340.70" cy="257.95" rx="2.25" ry="1.95" fill="#079c72"/>
<ellipse cx="346.20" cy="262.85" rx="2.25" ry="1.95" fill="#079c72"/>
<ellipse cx="339.80" cy="269.35" rx="2.25" ry="1.95" fill="#079c72"/>
<ellipse cx="338.00" cy="274.65" rx="2.25" ry="1.95" fill="#079c72"/>
<ellipse cx="343.60" cy="276.35" rx="2.25" ry="1.95" fill="#079c72"/>
<ellipse cx="329.20" cy="277.85" rx="2.25" ry="1.95" fill="#079c72"/>
<ellipse cx="329.90" cy="284.55" rx="2.25" ry="1.95" fill="#079c72"/>
<ellipse cx="328.40" cy="284.55" rx="2.25" ry="1.95" fill="#079c72"/>
<ellipse cx="327.20" cy="286.95" rx="2.25" ry="1.95" fill="#079c72"/>
<line x1="402.40" y1="229.10" x2="402.40" y2="254.10" stroke="#2b2b2b" stroke-width="1.10"/>
<line x1="402.40" y1="277.50" x2="402.40" y2="286.40" stroke="#2b2b2b" stroke-width="1.10"/>
<line x1="395.60" y1="229.10" x2="409.20" y2="229.10" stroke="#2b2b2b" stroke-width="1.10"/>
<line x1="395.60" y1="286.40" x2="409.20" y2="286.40" stroke="#2b2b2b" stroke-width="1.10"/>
<rect x="388.90" y="254.60" width="27.30" height="22.40" fill="#079c72" stroke="#2b2b2b" stroke-width="1.1"/>
<line x1="388.90" y1="268.90" x2="416.20" y2="268.90" stroke="#2b2b2b" stroke-width="1.80"/>
<path d="M458.20,201.20 C458.47,202.35 458.98,206.13 459.80,208.10 C460.62,210.07 461.18,211.10 463.10,213.00 C465.02,214.90 468.85,217.58 471.30,219.50 C473.75,221.42 476.12,222.85 477.80,224.50 C479.48,226.15 480.72,227.77 481.40,229.40 C482.08,231.03 481.73,232.67 481.90,234.30 C482.07,235.93 481.45,237.57 482.40,239.20 C483.35,240.83 485.08,242.47 487.60,244.10 C490.12,245.73 494.35,247.37 497.50,249.00 C500.65,250.63 503.92,252.27 506.50,253.90 C509.08,255.53 510.42,256.98 513.00,258.80 C515.58,260.62 519.68,262.70 522.00,264.80 C524.32,266.90 525.87,269.48 526.90,271.40 C527.93,273.32 528.75,274.67 528.20,276.30 C527.65,277.93 526.82,279.57 523.60,281.20 C520.38,282.83 514.08,284.47 508.90,286.10 C503.72,287.73 497.68,289.37 492.50,291.00 C487.32,292.63 482.15,294.27 477.80,295.90 C473.45,297.53 469.27,299.17 466.40,300.80 C463.53,302.43 461.97,303.47 460.60,305.70 C459.23,307.93 458.60,312.78 458.20,314.20 Z" fill="#66cfbb" stroke="none"/>
<path d="M458.20,201.20 C458.47,202.35 458.98,206.13 459.80,208.10 C460.62,210.07 461.18,211.10 463.10,213.00 C465.02,214.90 468.85,217.58 471.30,219.50 C473.75,221.42 476.12,222.85 477.80,224.50 C479.48,226.15 480.72,227.77 481.40,229.40 C482.08,231.03 481.73,232.67 481.90,234.30 C482.07,235.93 481.45,237.57 482.40,239.20 C483.35,240.83 485.08,242.47 487.60,244.10 C490.12,245.73 494.35,247.37 497.50,249.00 C500.65,250.63 503.92,252.27 506.50,253.90 C509.08,255.53 510.42,256.98 513.00,258.80 C515.58,260.62 519.68,262.70 522.00,264.80 C524.32,266.90 525.87,269.48 526.90,271.40 C527.93,273.32 528.75,274.67 528.20,276.30 C527.65,277.93 526.82,279.57 523.60,281.20 C520.38,282.83 514.08,284.47 508.90,286.10 C503.72,287.73 497.68,289.37 492.50,291.00 C487.32,292.63 482.15,294.27 477.80,295.90 C473.45,297.53 469.27,299.17 466.40,300.80 C463.53,302.43 461.97,303.47 460.60,305.70 C459.23,307.93 458.60,312.78 458.20,314.20" fill="none" stroke="#2b2b2b" stroke-width="0.9"/>
<line x1="458.20" y1="201.20" x2="458.20" y2="314.20" stroke="#2b2b2b" stroke-width="1.00"/>
<text x="200.60" y="357.90" font-size="12.60" font-weight="normal" font-style="italic" text-anchor="start" fill="#2a2a2a" textLength="110.40" lengthAdjust="spacingAndGlyphs">Reactiveness group</text>
<text transform="translate(19.40,495.20) rotate(-90)" font-size="12.40" font-weight="bold" fill="#1a1a1a" textLength="143.30" lengthAdjust="spacingAndGlyphs">Illinois Agility Test loaded (s)</text>
<line x1="46.50" y1="362.30" x2="46.50" y2="484.30" stroke="#c4c4c4" stroke-width="1.10"/>
<line x1="41.90" y1="484.30" x2="46.50" y2="484.30" stroke="#c4c4c4" stroke-width="1.00"/>
<text x="38.50" y="487.30" font-size="8.00" font-weight="normal" font-style="normal" text-anchor="end" fill="#404040" textLength="9.60" lengthAdjust="spacingAndGlyphs">14</text>
<line x1="41.90" y1="459.90" x2="46.50" y2="459.90" stroke="#c4c4c4" stroke-width="1.00"/>
<text x="38.50" y="462.90" font-size="8.00" font-weight="normal" font-style="normal" text-anchor="end" fill="#404040" textLength="9.60" lengthAdjust="spacingAndGlyphs">16</text>
<line x1="41.90" y1="435.50" x2="46.50" y2="435.50" stroke="#c4c4c4" stroke-width="1.00"/>
<text x="38.50" y="438.50" font-size="8.00" font-weight="normal" font-style="normal" text-anchor="end" fill="#404040" textLength="9.60" lengthAdjust="spacingAndGlyphs">18</text>
<line x1="41.90" y1="411.10" x2="46.50" y2="411.10" stroke="#c4c4c4" stroke-width="1.00"/>
<text x="38.50" y="414.10" font-size="8.00" font-weight="normal" font-style="normal" text-anchor="end" fill="#404040" textLength="9.60" lengthAdjust="spacingAndGlyphs">20</text>
<line x1="41.90" y1="386.70" x2="46.50" y2="386.70" stroke="#c4c4c4" stroke-width="1.00"/>
<text x="38.50" y="389.70" font-size="8.00" font-weight="normal" font-style="normal" text-anchor="end" fill="#404040" textLength="9.60" lengthAdjust="spacingAndGlyphs">22</text>
<line x1="41.90" y1="362.30" x2="46.50" y2="362.30" stroke="#c4c4c4" stroke-width="1.00"/>
<text x="38.50" y="365.30" font-size="8.00" font-weight="normal" font-style="normal" text-anchor="end" fill="#404040" textLength="9.60" lengthAdjust="spacingAndGlyphs">24</text>
<line x1="56.00" y1="490.20" x2="130.00" y2="490.20" stroke="#c4c4c4" stroke-width="1.10"/>
<line x1="56.00" y1="489.70" x2="56.00" y2="493.40" stroke="#c4c4c4" stroke-width="1.00"/>
<line x1="130.00" y1="489.70" x2="130.00" y2="493.40" stroke="#c4c4c4" stroke-width="1.00"/>
<text x="36.30" y="508.50" font-size="11.00" font-weight="bold" font-style="normal" text-anchor="start" fill="#1a1a1a" textLength="46.20" lengthAdjust="spacingAndGlyphs">Baseline</text>
<text x="105.50" y="509.10" font-size="11.00" font-weight="bold" font-style="normal" text-anchor="start" fill="#1a1a1a" textLength="79.50" lengthAdjust="spacingAndGlyphs">Post-treatment</text>
<text x="113.60" y="400.80" font-size="12" font-weight="bold" fill="#1a1a1a" textLength="46.70" lengthAdjust="spacingAndGlyphs"><tspan font-style="italic">d</tspan> = 0.38</text>
<line x1="63.00" y1="404.40" x2="133.90" y2="416.20" stroke="#d2d2d2" stroke-width="0.75"/>
<line x1="63.00" y1="407.30" x2="136.20" y2="417.50" stroke="#d2d2d2" stroke-width="0.75"/>
<line x1="63.20" y1="414.00" x2="129.00" y2="418.00" stroke="#d2d2d2" stroke-width="0.75"/>
<line x1="61.50" y1="415.20" x2="132.50" y2="422.80" stroke="#d2d2d2" stroke-width="0.75"/>
<line x1="62.60" y1="414.60" x2="124.50" y2="421.80" stroke="#d2d2d2" stroke-width="0.75"/>
<line x1="59.50" y1="419.50" x2="124.90" y2="431.20" stroke="#d2d2d2" stroke-width="0.75"/>
<line x1="61.00" y1="423.00" x2="129.20" y2="431.20" stroke="#d2d2d2" stroke-width="0.75"/>
<line x1="63.00" y1="430.30" x2="124.00" y2="436.25" stroke="#d2d2d2" stroke-width="0.75"/>
<line x1="62.80" y1="432.80" x2="131.70" y2="442.40" stroke="#d2d2d2" stroke-width="0.75"/>
<line x1="62.90" y1="431.50" x2="126.90" y2="446.00" stroke="#d2d2d2" stroke-width="0.75"/>
<line x1="62.80" y1="435.00" x2="122.70" y2="444.10" stroke="#d2d2d2" stroke-width="0.75"/>
<line x1="59.10" y1="440.60" x2="136.20" y2="439.40" stroke="#d2d2d2" stroke-width="0.75"/>
<line x1="56.90" y1="448.80" x2="135.60" y2="450.90" stroke="#d2d2d2" stroke-width="0.75"/>
<ellipse cx="63.00" cy="404.75" rx="2.25" ry="1.95" fill="#079c72"/>
<ellipse cx="63.00" cy="407.65" rx="2.25" ry="1.95" fill="#079c72"/>
<ellipse cx="63.20" cy="414.35" rx="2.25" ry="1.95" fill="#079c72"/>
<ellipse cx="61.50" cy="415.55" rx="2.25" ry="1.95" fill="#079c72"/>
<ellipse cx="62.60" cy="414.95" rx="2.25" ry="1.95" fill="#079c72"/>
<ellipse cx="59.50" cy="419.85" rx="2.25" ry="1.95" fill="#079c72"/>
<ellipse cx="61.00" cy="423.35" rx="2.25" ry="1.95" fill="#079c72"/>
<ellipse cx="63.00" cy="430.65" rx="2.25" ry="1.95" fill="#079c72"/>
<ellipse cx="62.80" cy="433.15" rx="2.25" ry="1.95" fill="#079c72"/>
<ellipse cx="62.90" cy="431.85" rx="2.25" ry="1.95" fill="#079c72"/>
<ellipse cx="62.80" cy="435.35" rx="2.25" ry="1.95" fill="#079c72"/>
<ellipse cx="59.10" cy="440.95" rx="2.25" ry="1.95" fill="#079c72"/>
<ellipse cx="56.90" cy="449.15" rx="2.25" ry="1.95" fill="#079c72"/>
<ellipse cx="133.90" cy="416.55" rx="2.25" ry="1.95" fill="#ff5e00"/>
<ellipse cx="136.20" cy="417.85" rx="2.25" ry="1.95" fill="#ff5e00"/>
<ellipse cx="129.00" cy="418.35" rx="2.25" ry="1.95" fill="#ff5e00"/>
<ellipse cx="132.50" cy="423.15" rx="2.25" ry="1.95" fill="#ff5e00"/>
<ellipse cx="124.50" cy="422.15" rx="2.25" ry="1.95" fill="#ff5e00"/>
<ellipse cx="124.90" cy="431.55" rx="2.25" ry="1.95" fill="#ff5e00"/>
<ellipse cx="129.20" cy="431.55" rx="2.25" ry="1.95" fill="#ff5e00"/>
<ellipse cx="124.00" cy="436.60" rx="2.25" ry="1.95" fill="#ff5e00"/>
<ellipse cx="131.70" cy="442.75" rx="2.25" ry="1.95" fill="#ff5e00"/>
<ellipse cx="126.90" cy="446.35" rx="2.25" ry="1.95" fill="#ff5e00"/>
<ellipse cx="122.70" cy="444.45" rx="2.25" ry="1.95" fill="#ff5e00"/>
<ellipse cx="136.20" cy="439.75" rx="2.25" ry="1.95" fill="#ff5e00"/>
<ellipse cx="135.60" cy="451.25" rx="2.25" ry="1.95" fill="#ff5e00"/>
<line x1="165.60" y1="404.40" x2="165.60" y2="415.30" stroke="#2b2b2b" stroke-width="1.10"/>
<line x1="165.60" y1="434.60" x2="165.60" y2="448.90" stroke="#2b2b2b" stroke-width="1.10"/>
<line x1="162.25" y1="404.40" x2="168.95" y2="404.40" stroke="#2b2b2b" stroke-width="1.10"/>
<line x1="162.25" y1="448.90" x2="168.95" y2="448.90" stroke="#2b2b2b" stroke-width="1.10"/>
<rect x="158.70" y="415.80" width="13.90" height="18.30" fill="#079c72" stroke="#2b2b2b" stroke-width="1.1"/>
<line x1="158.70" y1="422.90" x2="172.60" y2="422.90" stroke="#2b2b2b" stroke-width="1.80"/>
<line x1="195.50" y1="416.70" x2="195.50" y2="422.20" stroke="#2b2b2b" stroke-width="1.10"/>
<line x1="195.50" y1="442.50" x2="195.50" y2="450.70" stroke="#2b2b2b" stroke-width="1.10"/>
<line x1="192.30" y1="416.70" x2="198.70" y2="416.70" stroke="#2b2b2b" stroke-width="1.10"/>
<line x1="192.30" y1="450.70" x2="198.70" y2="450.70" stroke="#2b2b2b" stroke-width="1.10"/>
<rect x="188.20" y="422.70" width="13.80" height="19.30" fill="#ff6402" stroke="#2b2b2b" stroke-width="1.1"/>
<line x1="188.20" y1="431.10" x2="202.00" y2="431.10" stroke="#2b2b2b" stroke-width="1.80"/>
<defs><clipPath id="clipg3"><path d="M224.90,382.70 L224.90,382.70 C225.02,383.55 225.20,386.30 225.60,387.80 C226.00,389.30 226.45,390.40 227.30,391.70 C228.15,393.00 229.32,394.30 230.70,395.60 C232.08,396.90 233.82,398.20 235.60,399.50 C237.38,400.80 239.23,402.10 241.40,403.40 C243.57,404.70 246.35,406.00 248.60,407.30 C250.85,408.60 253.33,410.07 254.90,411.20 C256.47,412.33 257.32,413.12 258.00,414.10 C258.68,415.08 258.90,416.12 259.00,417.10 C259.10,418.08 258.83,418.85 258.60,420.00 C258.37,421.15 257.83,422.67 257.60,424.00 C257.37,425.33 257.30,426.55 257.20,428.00 C257.10,429.45 257.18,431.42 257.00,432.70 C256.82,433.98 256.73,434.72 256.10,435.70 C255.47,436.68 254.50,437.63 253.20,438.60 C251.90,439.57 250.27,440.37 248.30,441.50 C246.33,442.63 243.52,444.10 241.40,445.40 C239.28,446.70 237.38,447.99 235.60,449.30 C233.82,450.61 232.00,451.93 230.70,453.25 C229.40,454.57 228.62,455.89 227.80,457.20 C226.98,458.51 226.23,459.80 225.80,461.10 C225.37,462.40 225.35,463.43 225.20,465.00 C225.05,466.57 224.95,469.58 224.90,470.50 L224.90,470.50 Z"/></clipPath></defs>
<path d="M224.90,382.70 L224.90,382.70 C225.02,383.55 225.20,386.30 225.60,387.80 C226.00,389.30 226.45,390.40 227.30,391.70 C228.15,393.00 229.32,394.30 230.70,395.60 C232.08,396.90 233.82,398.20 235.60,399.50 C237.38,400.80 239.23,402.10 241.40,403.40 C243.57,404.70 246.35,406.00 248.60,407.30 C250.85,408.60 253.33,410.07 254.90,411.20 C256.47,412.33 257.32,413.12 258.00,414.10 C258.68,415.08 258.90,416.12 259.00,417.10 C259.10,418.08 258.83,418.85 258.60,420.00 C258.37,421.15 257.83,422.67 257.60,424.00 C257.37,425.33 257.30,426.55 257.20,428.00 C257.10,429.45 257.18,431.42 257.00,432.70 C256.82,433.98 256.73,434.72 256.10,435.70 C255.47,436.68 254.50,437.63 253.20,438.60 C251.90,439.57 250.27,440.37 248.30,441.50 C246.33,442.63 243.52,444.10 241.40,445.40 C239.28,446.70 237.38,447.99 235.60,449.30 C233.82,450.61 232.00,451.93 230.70,453.25 C229.40,454.57 228.62,455.89 227.80,457.20 C226.98,458.51 226.23,459.80 225.80,461.10 C225.37,462.40 225.35,463.43 225.20,465.00 C225.05,466.57 224.95,469.58 224.90,470.50 L224.90,470.50 Z" fill="#66cfbb"/>
<path d="M224.90,382.70 L224.90,382.70 C224.91,385.42 224.88,395.87 224.95,399.00 C225.02,402.13 224.99,400.77 225.30,401.50 C225.61,402.23 225.78,402.60 226.80,403.40 C227.82,404.20 229.65,405.32 231.40,406.30 C233.15,407.28 235.13,408.27 237.30,409.25 C239.47,410.23 241.92,411.22 244.40,412.20 C246.88,413.18 250.00,414.28 252.20,415.10 C254.40,415.92 256.17,416.40 257.60,417.10 C259.03,417.80 260.37,418.48 260.80,419.30 C261.23,420.12 260.63,421.07 260.20,422.00 C259.77,422.93 258.67,423.77 258.20,424.90 C257.73,426.03 257.20,427.33 257.40,428.80 C257.60,430.27 258.80,432.07 259.40,433.70 C260.00,435.33 260.90,437.13 261.00,438.60 C261.10,440.07 260.82,441.37 260.00,442.50 C259.18,443.63 257.89,444.42 256.10,445.40 C254.31,446.38 251.53,447.42 249.25,448.40 C246.97,449.38 244.51,450.33 242.40,451.30 C240.29,452.27 238.38,453.22 236.60,454.20 C234.82,455.18 233.22,456.05 231.70,457.20 C230.18,458.35 228.48,459.80 227.50,461.10 C226.52,462.40 226.23,463.43 225.80,465.00 C225.37,466.57 225.05,469.58 224.90,470.50 L224.90,470.50 Z" fill="#fcac7a"/>
<path d="M224.90,382.70 L224.90,382.70 C224.91,385.42 224.88,395.87 224.95,399.00 C225.02,402.13 224.99,400.77 225.30,401.50 C225.61,402.23 225.78,402.60 226.80,403.40 C227.82,404.20 229.65,405.32 231.40,406.30 C233.15,407.28 235.13,408.27 237.30,409.25 C239.47,410.23 241.92,411.22 244.40,412.20 C246.88,413.18 250.00,414.28 252.20,415.10 C254.40,415.92 256.17,416.40 257.60,417.10 C259.03,417.80 260.37,418.48 260.80,419.30 C261.23,420.12 260.63,421.07 260.20,422.00 C259.77,422.93 258.67,423.77 258.20,424.90 C257.73,426.03 257.20,427.33 257.40,428.80 C257.60,430.27 258.80,432.07 259.40,433.70 C260.00,435.33 260.90,437.13 261.00,438.60 C261.10,440.07 260.82,441.37 260.00,442.50 C259.18,443.63 257.89,444.42 256.10,445.40 C254.31,446.38 251.53,447.42 249.25,448.40 C246.97,449.38 244.51,450.33 242.40,451.30 C240.29,452.27 238.38,453.22 236.60,454.20 C234.82,455.18 233.22,456.05 231.70,457.20 C230.18,458.35 228.48,459.80 227.50,461.10 C226.52,462.40 226.23,463.43 225.80,465.00 C225.37,466.57 225.05,469.58 224.90,470.50 L224.90,470.50 Z" fill="#bf9a62" clip-path="url(#clipg3)"/>
<path d="M224.90,382.70 C225.02,383.55 225.20,386.30 225.60,387.80 C226.00,389.30 226.45,390.40 227.30,391.70 C228.15,393.00 229.32,394.30 230.70,395.60 C232.08,396.90 233.82,398.20 235.60,399.50 C237.38,400.80 239.23,402.10 241.40,403.40 C243.57,404.70 246.35,406.00 248.60,407.30 C250.85,408.60 253.33,410.07 254.90,411.20 C256.47,412.33 257.32,413.12 258.00,414.10 C258.68,415.08 258.90,416.12 259.00,417.10 C259.10,418.08 258.83,418.85 258.60,420.00 C258.37,421.15 257.83,422.67 257.60,424.00 C257.37,425.33 257.30,426.55 257.20,428.00 C257.10,429.45 257.18,431.42 257.00,432.70 C256.82,433.98 256.73,434.72 256.10,435.70 C255.47,436.68 254.50,437.63 253.20,438.60 C251.90,439.57 250.27,440.37 248.30,441.50 C246.33,442.63 243.52,444.10 241.40,445.40 C239.28,446.70 237.38,447.99 235.60,449.30 C233.82,450.61 232.00,451.93 230.70,453.25 C229.40,454.57 228.62,455.89 227.80,457.20 C226.98,458.51 226.23,459.80 225.80,461.10 C225.37,462.40 225.35,463.43 225.20,465.00 C225.05,466.57 224.95,469.58 224.90,470.50" fill="none" stroke="#2e3a33" stroke-width="0.7"/>
<path d="M224.90,382.70 C224.91,385.42 224.88,395.87 224.95,399.00 C225.02,402.13 224.99,400.77 225.30,401.50 C225.61,402.23 225.78,402.60 226.80,403.40 C227.82,404.20 229.65,405.32 231.40,406.30 C233.15,407.28 235.13,408.27 237.30,409.25 C239.47,410.23 241.92,411.22 244.40,412.20 C246.88,413.18 250.00,414.28 252.20,415.10 C254.40,415.92 256.17,416.40 257.60,417.10 C259.03,417.80 260.37,418.48 260.80,419.30 C261.23,420.12 260.63,421.07 260.20,422.00 C259.77,422.93 258.67,423.77 258.20,424.90 C257.73,426.03 257.20,427.33 257.40,428.80 C257.60,430.27 258.80,432.07 259.40,433.70 C260.00,435.33 260.90,437.13 261.00,438.60 C261.10,440.07 260.82,441.37 260.00,442.50 C259.18,443.63 257.89,444.42 256.10,445.40 C254.31,446.38 251.53,447.42 249.25,448.40 C246.97,449.38 244.51,450.33 242.40,451.30 C240.29,452.27 238.38,453.22 236.60,454.20 C234.82,455.18 233.22,456.05 231.70,457.20 C230.18,458.35 228.48,459.80 227.50,461.10 C226.52,462.40 226.23,463.43 225.80,465.00 C225.37,466.57 225.05,469.58 224.90,470.50" fill="none" stroke="#5a3a20" stroke-width="0.7"/>
<line x1="224.90" y1="382.70" x2="224.90" y2="470.50" stroke="#2b2b2b" stroke-width="1.00"/>
<line x1="318.40" y1="363.40" x2="318.40" y2="481.65" stroke="#c4c4c4" stroke-width="1.10"/>
<line x1="313.90" y1="363.40" x2="318.40" y2="363.40" stroke="#c4c4c4" stroke-width="1.00"/>
<text x="309.70" y="366.40" font-size="8.30" font-weight="normal" font-style="normal" text-anchor="end" fill="#404040" textLength="11.41" lengthAdjust="spacingAndGlyphs">2.0</text>
<line x1="313.90" y1="387.05" x2="318.40" y2="387.05" stroke="#c4c4c4" stroke-width="1.00"/>
<text x="309.70" y="390.05" font-size="8.30" font-weight="normal" font-style="normal" text-anchor="end" fill="#404040" textLength="11.41" lengthAdjust="spacingAndGlyphs">1.5</text>
<line x1="313.90" y1="410.70" x2="318.40" y2="410.70" stroke="#c4c4c4" stroke-width="1.00"/>
<text x="309.70" y="413.70" font-size="8.30" font-weight="normal" font-style="normal" text-anchor="end" fill="#404040" textLength="11.41" lengthAdjust="spacingAndGlyphs">1.0</text>
<line x1="313.90" y1="434.35" x2="318.40" y2="434.35" stroke="#c4c4c4" stroke-width="1.00"/>
<text x="309.70" y="437.35" font-size="8.30" font-weight="normal" font-style="normal" text-anchor="end" fill="#404040" textLength="11.41" lengthAdjust="spacingAndGlyphs">0.5</text>
<line x1="313.90" y1="458.00" x2="318.40" y2="458.00" stroke="#c4c4c4" stroke-width="1.00"/>
<text x="309.70" y="461.00" font-size="8.30" font-weight="normal" font-style="normal" text-anchor="end" fill="#404040" textLength="11.41" lengthAdjust="spacingAndGlyphs">0.0</text>
<line x1="313.90" y1="481.65" x2="318.40" y2="481.65" stroke="#c4c4c4" stroke-width="1.00"/>
<text x="309.70" y="484.65" font-size="8.30" font-weight="normal" font-style="normal" text-anchor="end" fill="#404040" textLength="14.45" lengthAdjust="spacingAndGlyphs">-0.5</text>
<line x1="314.10" y1="458.00" x2="361.70" y2="458.00" stroke="#9a9a9a" stroke-width="1.50"/>
<text transform="translate(288.90,475.90) rotate(-90)" font-size="12.60" font-weight="bold" fill="#1a1a1a" textLength="108.10" lengthAdjust="spacingAndGlyphs">Individual differences</text>
<ellipse cx="348.30" cy="397.85" rx="2.25" ry="1.95" fill="#079c72"/>
<ellipse cx="348.00" cy="405.55" rx="2.25" ry="1.95" fill="#079c72"/>
<ellipse cx="328.50" cy="407.85" rx="2.25" ry="1.95" fill="#079c72"/>
<ellipse cx="330.30" cy="413.15" rx="2.25" ry="1.95" fill="#079c72"/>
<ellipse cx="344.20" cy="415.65" rx="2.25" ry="1.95" fill="#079c72"/>
<ellipse cx="341.50" cy="426.85" rx="2.25" ry="1.95" fill="#079c72"/>
<ellipse cx="346.70" cy="431.05" rx="2.25" ry="1.95" fill="#079c72"/>
<ellipse cx="351.30" cy="436.75" rx="2.25" ry="1.95" fill="#079c72"/>
<ellipse cx="351.10" cy="446.05" rx="2.25" ry="1.95" fill="#079c72"/>
<ellipse cx="337.70" cy="448.15" rx="2.25" ry="1.95" fill="#079c72"/>
<ellipse cx="348.30" cy="450.45" rx="2.25" ry="1.95" fill="#079c72"/>
<ellipse cx="354.10" cy="449.55" rx="2.25" ry="1.95" fill="#079c72"/>
<ellipse cx="343.10" cy="463.45" rx="2.25" ry="1.95" fill="#079c72"/>
<line x1="407.50" y1="397.50" x2="407.50" y2="412.90" stroke="#2b2b2b" stroke-width="1.10"/>
<line x1="407.50" y1="447.80" x2="407.50" y2="462.70" stroke="#2b2b2b" stroke-width="1.10"/>
<line x1="401.10" y1="397.50" x2="413.90" y2="397.50" stroke="#2b2b2b" stroke-width="1.10"/>
<line x1="401.10" y1="462.70" x2="413.90" y2="462.70" stroke="#2b2b2b" stroke-width="1.10"/>
<rect x="394.60" y="413.40" width="25.90" height="33.90" fill="#079c72" stroke="#2b2b2b" stroke-width="1.1"/>
<line x1="394.60" y1="430.70" x2="420.50" y2="430.70" stroke="#2b2b2b" stroke-width="1.80"/>
<path d="M461.40,364.10 C461.55,364.87 461.78,366.97 462.30,368.70 C462.82,370.43 463.42,372.55 464.50,374.50 C465.58,376.45 466.75,378.45 468.80,380.40 C470.85,382.35 473.52,384.27 476.80,386.20 C480.08,388.13 484.87,390.30 488.50,392.00 C492.13,393.70 495.45,394.95 498.60,396.40 C501.75,397.85 504.73,399.25 507.40,400.70 C510.07,402.15 512.67,403.63 514.60,405.10 C516.53,406.57 518.02,408.05 519.00,409.50 C519.98,410.95 520.38,412.35 520.50,413.80 C520.62,415.25 519.99,416.38 519.70,418.20 C519.41,420.02 518.47,422.58 518.75,424.70 C519.03,426.82 520.17,428.82 521.40,430.90 C522.62,432.98 524.93,435.12 526.10,437.20 C527.27,439.28 528.53,441.32 528.40,443.40 C528.27,445.48 527.38,447.87 525.30,449.70 C523.22,451.53 520.32,452.58 515.90,454.40 C511.47,456.22 504.22,458.52 498.75,460.60 C493.28,462.68 487.53,464.82 483.10,466.90 C478.68,468.98 475.07,471.02 472.20,473.10 C469.33,475.18 467.52,477.05 465.90,479.40 C464.28,481.75 463.25,484.33 462.50,487.20 C461.75,490.07 461.58,495.03 461.40,496.60 Z" fill="#66cfbb" stroke="none"/>
<path d="M461.40,364.10 C461.55,364.87 461.78,366.97 462.30,368.70 C462.82,370.43 463.42,372.55 464.50,374.50 C465.58,376.45 466.75,378.45 468.80,380.40 C470.85,382.35 473.52,384.27 476.80,386.20 C480.08,388.13 484.87,390.30 488.50,392.00 C492.13,393.70 495.45,394.95 498.60,396.40 C501.75,397.85 504.73,399.25 507.40,400.70 C510.07,402.15 512.67,403.63 514.60,405.10 C516.53,406.57 518.02,408.05 519.00,409.50 C519.98,410.95 520.38,412.35 520.50,413.80 C520.62,415.25 519.99,416.38 519.70,418.20 C519.41,420.02 518.47,422.58 518.75,424.70 C519.03,426.82 520.17,428.82 521.40,430.90 C522.62,432.98 524.93,435.12 526.10,437.20 C527.27,439.28 528.53,441.32 528.40,443.40 C528.27,445.48 527.38,447.87 525.30,449.70 C523.22,451.53 520.32,452.58 515.90,454.40 C511.47,456.22 504.22,458.52 498.75,460.60 C493.28,462.68 487.53,464.82 483.10,466.90 C478.68,468.98 475.07,471.02 472.20,473.10 C469.33,475.18 467.52,477.05 465.90,479.40 C464.28,481.75 463.25,484.33 462.50,487.20 C461.75,490.07 461.58,495.03 461.40,496.60" fill="none" stroke="#2b2b2b" stroke-width="0.9"/>
<line x1="461.40" y1="364.10" x2="461.40" y2="496.60" stroke="#2b2b2b" stroke-width="1.00"/>
<line x1="4.40" y1="171.60" x2="547.50" y2="172.70" stroke="#333333" stroke-width="1.50"/>
<line x1="4.40" y1="344.70" x2="547.50" y2="345.70" stroke="#333333" stroke-width="1.50"/>
</svg>
</body></html>
